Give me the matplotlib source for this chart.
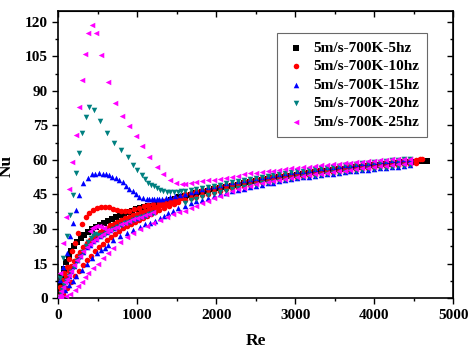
import matplotlib
matplotlib.use("Agg")
import matplotlib.pyplot as plt
from matplotlib.ticker import MultipleLocator

plt.rcParams["font.family"] = ["Liberation Serif", "DejaVu Serif"]
plt.rcParams["font.weight"] = "bold"

labels = ["5m/s-700K-5hz", "5m/s-700K-10hz", "5m/s-700K-15hz",
          "5m/s-700K-20hz", "5m/s-700K-25hz"]
colors = ["#000000", "#ff0000", "#0000ff", "#008080", "#ff00ff"]
markers = ["s", "o", "^", "v", "<"]

# shared Re grid of the dense tail
tail_re = [1600, 1675, 1750, 1825, 1900, 1975, 2050, 2125, 2200, 2275,
           2350, 2425, 2500, 2575, 2650, 2725, 2800, 2875, 2950, 3025,
           3100, 3175, 3250, 3325, 3400, 3475, 3550, 3625, 3700, 3775,
           3850, 3925, 4000, 4075, 4150, 4225, 4300, 4375, 4450, 4525]

# ---- 5 hz
hz5_re = [15, 30, 50, 75, 100, 130, 165, 200, 240, 285, 330, 380, 430, 480,
          530, 580, 630, 680, 730, 780, 830, 880, 930, 980, 1030, 1080, 1130,
          1180, 1230, 1280, 1330, 1380, 1430, 1480, 1530, 1575]
hz5_nu = [3, 6, 9, 12.5, 15.5, 18, 20.5, 22.5, 24.3, 26, 27.5, 28.8, 29.9, 30.9,
          31.8, 32.7, 33.6, 34.4, 35.2, 36, 36.7, 37.4, 38, 38.6, 39.1, 39.5, 39.8,
          40, 40.3, 40.8, 41.3, 41.9, 42.5, 43.1, 43.7, 44.1]
hz5_tail = [44.2, 44.9, 45.5, 46.1, 46.7, 47.3, 47.8, 48.3, 48.8, 49.3, 49.8,
            50.3, 50.7, 51.2, 51.6, 52.0, 52.4, 52.8, 53.2, 53.6, 53.9, 54.3,
            54.6, 55.0, 55.3, 55.6, 55.9, 56.2, 56.5, 56.8, 57.1, 57.3, 57.6,
            57.9, 58.1, 58.4, 58.6, 58.9, 59.1, 59.3]
hz5_end_re = [4575, 4610, 4640, 4665]
hz5_end_nu = [59.4, 59.5, 59.6, 59.7]

# ---- 10 hz
hz10_up_re = [20, 45, 75, 106, 140, 175, 211, 253, 300, 347, 395, 443, 490, 540,
              591, 640, 690, 740, 790, 844, 900, 960, 1020, 1080, 1140, 1200,
              1270, 1340, 1410, 1480, 1550]
hz10_up_nu = [5, 8, 11, 13.7, 17, 20.5, 23.9, 28.2, 32, 35.2, 37, 38.3, 39, 39.4,
              39.6, 39.4, 38.9, 38.4, 38, 37.8, 38, 38.6, 39.2, 39.8, 40.3, 40.9,
              41.5, 42.1, 42.7, 43.3, 44]
hz10_in_re = [10, 30, 50, 75, 100, 130, 160, 195, 233, 270, 310, 359, 400, 440,
              480, 528, 570, 612, 660, 700, 739, 790, 840, 890, 949, 1000, 1050,
              1100, 1150, 1203, 1250, 1300, 1350, 1400, 1450, 1500, 1550]
hz10_in_nu = [1, 3, 5, 7.5, 9.5, 11.8, 13.8, 16, 18.3, 20.2, 22, 24, 25.3, 26.5,
              27.6, 28.7, 29.7, 30.6, 31.6, 32.3, 33, 33.9, 34.7, 35.4, 36.1, 36.7,
              37.3, 37.9, 38.5, 39.1, 39.7, 40.3, 40.9, 41.5, 42.1, 42.7, 43.3]
hz10_lo_re = [60, 110, 160, 211, 260, 310, 360, 410, 460, 510, 560, 612, 665, 718,
              770, 820, 870, 920, 970, 1020, 1070, 1120, 1170, 1220, 1280, 1340,
              1400, 1460, 1520]
hz10_lo_nu = [2, 4.5, 7, 9.5, 12, 14.3, 16.5, 18.5, 20.3, 22, 23.7, 25.3, 26.7, 28,
              29.2, 30.3, 31.3, 32.2, 33.1, 34, 34.8, 35.6, 36.4, 37.2, 38.1, 39,
              39.9, 40.8, 41.7]
hz10_tail_hi = [45.1, 45.8, 46.4, 47.0, 47.6, 48.2, 48.7, 49.2, 49.7, 50.2, 50.7,
                51.2, 51.6, 52.1, 52.5, 52.9, 53.3, 53.7, 54.1, 54.5, 54.8, 55.2,
                55.5, 55.9, 56.2, 56.5, 56.8, 57.1, 57.4, 57.7, 58.0, 58.2, 58.5,
                58.8, 59.0, 59.3, 59.5, 59.8, 60.0, 60.1]
hz10_tail_lo = [42.5, 43.3, 44.0, 44.7, 45.4, 46.0, 46.6, 47.2, 47.7, 48.3, 48.8,
                49.3, 49.8, 50.3, 50.7, 51.2, 51.6, 52.0, 52.4, 52.8, 53.2, 53.5,
                53.9, 54.2, 54.6, 54.9, 55.2, 55.5, 55.8, 56.1, 56.4, 56.6, 56.9,
                57.2, 57.4, 57.7, 57.9, 58.2, 58.4, 58.6]
hz10_end_re = [4575, 4605]
hz10_end_nu = [60.2, 60.2]

# ---- 15 hz
hz15_up_re = [22, 63, 106, 148, 190, 224, 266, 317, 370, 422, 470, 519, 560, 600,
              642, 684, 728, 772, 815, 857, 900, 941, 983, 1025, 1072, 1119, 1150,
              1182, 1214, 1245, 1277, 1309, 1360, 1420, 1480, 1540]
hz15_up_nu = [8, 13.7, 19.5, 26.8, 32.6, 38.3, 44.9, 49.9, 52.3, 53.7, 54.1, 54.3,
              54.1, 53.8, 53.3, 52.8, 52.2, 51.4, 50.3, 48.9, 47.6, 46.3, 45.1,
              44.1, 43.4, 43, 43, 43, 43, 43, 43.1, 43.2, 43.5, 43.9, 44.3, 44.8]
hz15_in_re = [10, 30, 50, 75, 100, 130, 160, 195, 233, 270, 310, 359, 400, 440,
              480, 528, 570, 612, 660, 700, 739, 790, 840, 890, 949, 1000, 1050,
              1100, 1150, 1203]
hz15_in_nu = [0.6, 2.2, 3.8, 6, 7.8, 9.8, 11.8, 14, 16.4, 18.3, 20, 22, 23.2, 24.6,
              25.6, 26.8, 27.8, 28.7, 29.7, 30.5, 31.3, 32.1, 32.9, 33.6, 34.4,
              35, 35.6, 36.2, 36.8, 37.5]
hz15_lo_re = [30, 80, 130, 180, 230, 296, 360, 422, 486, 540, 590, 633, 696, 780,
              866, 949, 1034, 1100, 1161, 1225, 1287, 1340, 1392, 1450, 1510]
hz15_lo_nu = [1.5, 3.5, 5.5, 7.5, 9.8, 12.3, 15, 17.4, 19.5, 20.8, 21.8, 23.1,
              25.3, 27, 28.2, 29.7, 31.1, 32, 32.6, 33.7, 34.7, 35.8, 36.9, 38, 39]
hz15_tail_hi = [45.3, 46.0, 46.7, 47.4, 48.1, 48.7, 49.3, 49.8, 50.3, 50.8, 51.3,
                51.8, 52.2, 52.7, 53.1, 53.5, 53.9, 54.3, 54.7, 55.1, 55.4, 55.8,
                56.1, 56.5, 56.8, 57.1, 57.4, 57.7, 58.0, 58.3, 58.6, 58.8, 59.1,
                59.4, 59.6, 59.9, 60.1, 60.4, 60.5]
hz15_tail_lo = [40.2, 41.1, 42.0, 42.8, 43.6, 44.4, 45.1, 45.8, 46.4, 47.0, 47.6,
                48.2, 48.7, 49.3, 49.8, 50.2, 50.7, 51.1, 51.6, 52.0, 52.4, 52.8,
                53.1, 53.5, 53.8, 54.1, 54.4, 54.7, 55.0, 55.3, 55.6, 55.8, 56.1,
                56.4, 56.6, 56.9, 57.1, 57.4, 57.6]

# ---- 20 hz
hz20_up_re = [22, 63, 110, 148, 182, 224, 262, 304, 347, 392, 456, 528, 612, 705,
              789, 878, 949, 1000, 1055, 1100, 1139, 1175, 1211, 1250, 1287, 1330,
              1372, 1415, 1460, 1510, 1560]
hz20_up_nu = [8.7, 17.4, 27, 36.2, 44.9, 54.3, 63.2, 71.7, 78.7, 82.8, 81.5, 76.9,
              71.5, 67.5, 64.4, 61.3, 57.9, 55.7, 53.5, 51.7, 50.2, 49.3, 48.5,
              47.7, 47, 46.4, 46, 45.9, 46, 46.1, 46.3]
hz20_in_re = [10, 30, 50, 75, 100, 130, 160, 195, 233, 270, 310, 350, 380, 410,
              440, 470, 500, 530, 560, 600, 640, 690, 739, 790, 840, 890, 949, 1000,
              1050, 1100, 1150, 1203]
hz20_in_nu = [0.5, 2, 3.5, 5.6, 7.4, 9.4, 11.3, 13.6, 16, 18, 20, 22.5, 24.5, 26,
              27.2, 27.8, 27.6, 27, 27.4, 28.3, 29.2, 30, 30.8, 31.7, 32.5, 33.2,
              34, 34.6, 35.2, 35.8, 36.4, 37]
hz20_tail_hi = [46.6, 47.0, 47.4, 47.8, 48.3, 48.8, 49.3, 49.8, 50.3, 50.8, 51.3,
                51.7, 52.2, 52.6, 53.0, 53.4, 53.8, 54.2, 54.6, 55.0, 55.3, 55.7,
                56.0, 56.4, 56.7, 57.0, 57.3, 57.6, 57.9, 58.2, 58.5, 58.7, 59.0,
                59.3, 59.5, 59.8, 60.0, 60.3, 60.4]
hz20_tail_lo = [41.5, 42.4, 43.2, 44.0, 44.7, 45.4, 46.0, 46.6, 47.2, 47.8, 48.3,
                48.8, 49.3, 49.8, 50.2, 50.6, 51.0, 51.4, 51.8, 52.2, 52.5, 52.9,
                53.2, 53.6, 53.9, 54.2, 54.5, 54.8, 55.1, 55.4, 55.7, 55.9, 56.2,
                56.5, 56.7, 57.0, 57.2, 57.5, 57.7]

# ---- 25 hz
hz25_up_re = [20, 63, 97, 135, 177, 224, 262, 296, 338, 372, 427, 477, 540, 625,
              718, 806, 899, 984, 1063, 1152, 1246, 1329, 1414, 1490, 1562]
hz25_up_nu = [11, 23.9, 35.2, 47.3, 59, 70.9, 82.9, 94.6, 106, 114.9, 118.8, 114.9,
              105.4, 93.8, 84.8, 78.9, 74.7, 70.6, 66.1, 61.2, 56.9, 53.7, 51.5,
              50, 49.5]
hz25_in_re = [10, 25, 40, 63, 85, 106, 130, 160, 195, 233, 270, 310, 359, 400,
              440, 480, 528, 570, 612, 660, 700, 739, 790, 840, 890, 949, 1000,
              1050, 1100, 1150, 1203]
hz25_in_nu = [0.3, 1.5, 3, 5, 6.8, 8.3, 10, 12, 14.3, 16.6, 18.5, 20.3, 22.4, 23.6,
              24.7, 25.8, 26.8, 27.8, 28.7, 29.7, 30.4, 31.1, 32, 32.8, 33.5, 34.2,
              34.8, 35.4, 36, 36.6, 37.2]
hz25_hook_re = [400, 422, 450, 480, 510, 540, 575, 612]
hz25_hook_nu = [29, 30.4, 31, 31.4, 31.5, 31, 30.3, 29.7]
hz25_lo_re = [40, 100, 150, 211, 255, 296, 340, 380, 440, 507, 570, 633, 696, 780,
              866, 950, 1034, 1118, 1203, 1290, 1372, 1450, 1525]
hz25_lo_nu = [0.3, 1, 2, 3.6, 5.4, 7.2, 9, 10.9, 13, 15, 17.5, 19.5, 21.8, 24.3,
              26.4, 28.3, 30, 31.5, 32.8, 34.1, 35.3, 36.5, 37.5]
hz25_tail_hi = [49.6, 49.9, 50.3, 50.7, 51.1, 51.5, 51.9, 52.3, 52.6, 53.0, 53.7,
                54.2, 54.5, 54.8, 55.1, 55.4, 55.7, 56.0, 56.3, 56.6, 56.9, 57.1,
                57.4, 57.6, 57.9, 58.1, 58.3, 58.6, 58.8, 59.0, 59.2, 59.4, 59.6,
                59.8, 60.0, 60.2, 60.3, 60.5, 60.6]
hz25_tail_lo = [38.0, 39.0, 40.0, 41.2, 42.3, 43.3, 44.3, 45.3, 46.3, 47.2, 48.0,
                48.8, 49.4, 50.0, 50.5, 51.0, 51.4, 51.8, 52.2, 52.6, 53.0, 53.4,
                53.8, 54.1, 54.5, 54.8, 55.1, 55.4, 55.7, 56.0, 56.3, 56.6, 56.9,
                57.2, 57.5, 57.8, 58.1, 58.4, 58.7]

series = [
    [(hz5_re, hz5_nu), (tail_re, hz5_tail), (hz5_end_re, hz5_end_nu)],
    [(hz10_up_re, hz10_up_nu), (hz10_in_re, hz10_in_nu), (hz10_lo_re, hz10_lo_nu),
     (tail_re, hz10_tail_hi), (tail_re, hz10_tail_lo), (hz10_end_re, hz10_end_nu)],
    [(hz15_up_re, hz15_up_nu), (hz15_in_re, hz15_in_nu), (hz15_lo_re, hz15_lo_nu),
     (tail_re, hz15_tail_hi), (tail_re, hz15_tail_lo)],
    [(hz20_up_re, hz20_up_nu), (hz20_in_re, hz20_in_nu),
     (tail_re, hz20_tail_hi), (tail_re, hz20_tail_lo)],
    [(hz25_up_re, hz25_up_nu), (hz25_in_re, hz25_in_nu), (hz25_hook_re, hz25_hook_nu),
     (hz25_lo_re, hz25_lo_nu), (tail_re, hz25_tail_hi), (tail_re, hz25_tail_lo)],
]

fig = plt.figure(figsize=(4.74, 3.52), dpi=100)
ax = fig.add_axes([0.123, 0.153, 0.833, 0.816])

for parts, lab, col, mk in zip(series, labels, colors, markers):
    for i, (xs, ys) in enumerate(parts):
        ax.scatter(xs[:len(ys)], ys, s=16, marker=mk, color=col, linewidths=0,
                   label=lab if i == 0 else None, zorder=3)

ax.set_xlim(0, 5000)
ax.set_ylim(0, 124.7)
ax.xaxis.set_major_locator(MultipleLocator(1000))
ax.xaxis.set_minor_locator(MultipleLocator(500))
ax.yaxis.set_major_locator(MultipleLocator(15))
ax.yaxis.set_minor_locator(MultipleLocator(7.5))
ax.tick_params(which="both", direction="out", top=False, right=False,
               labelsize=11, width=1.0)
ax.tick_params(which="major", length=4)
ax.tick_params(which="minor", length=2.5)
for tl in ax.get_xticklabels() + ax.get_yticklabels():
    tl.set_fontweight("bold")

# mirrored ticks on top and right, pointing inside
axt = ax.secondary_xaxis("top")
axt.xaxis.set_major_locator(MultipleLocator(1000))
axt.xaxis.set_minor_locator(MultipleLocator(500))
axt.tick_params(which="both", direction="in", labeltop=False, width=1.0)
axt.tick_params(which="major", length=4)
axt.tick_params(which="minor", length=2.5)
axr = ax.secondary_yaxis("right")
axr.yaxis.set_major_locator(MultipleLocator(15))
axr.yaxis.set_minor_locator(MultipleLocator(7.5))
axr.tick_params(which="both", direction="in", labelright=False, width=1.0)
axr.tick_params(which="major", length=4)
axr.tick_params(which="minor", length=2.5)

for sp in ax.spines.values():
    sp.set_linewidth(1.2)

ax.set_xlabel("Re", fontsize=12.5, fontweight="bold", labelpad=8)
ax.set_ylabel("Nu", fontsize=12.5, fontweight="bold")
ax.yaxis.set_label_coords(-0.11, 0.46)

leg = ax.legend(loc="upper left", bbox_to_anchor=(0.553, 0.922), borderaxespad=0,
                scatterpoints=1,
                prop={"family": "Liberation Serif", "weight": "bold", "size": 11},
                frameon=True, fancybox=False, borderpad=0.5, labelspacing=0.32,
                handletextpad=0.4, handlelength=1.5, markerscale=1.0)
leg.get_frame().set_edgecolor("#444444")
leg.get_frame().set_linewidth(0.8)

fig.savefig("out.png", dpi=100)
